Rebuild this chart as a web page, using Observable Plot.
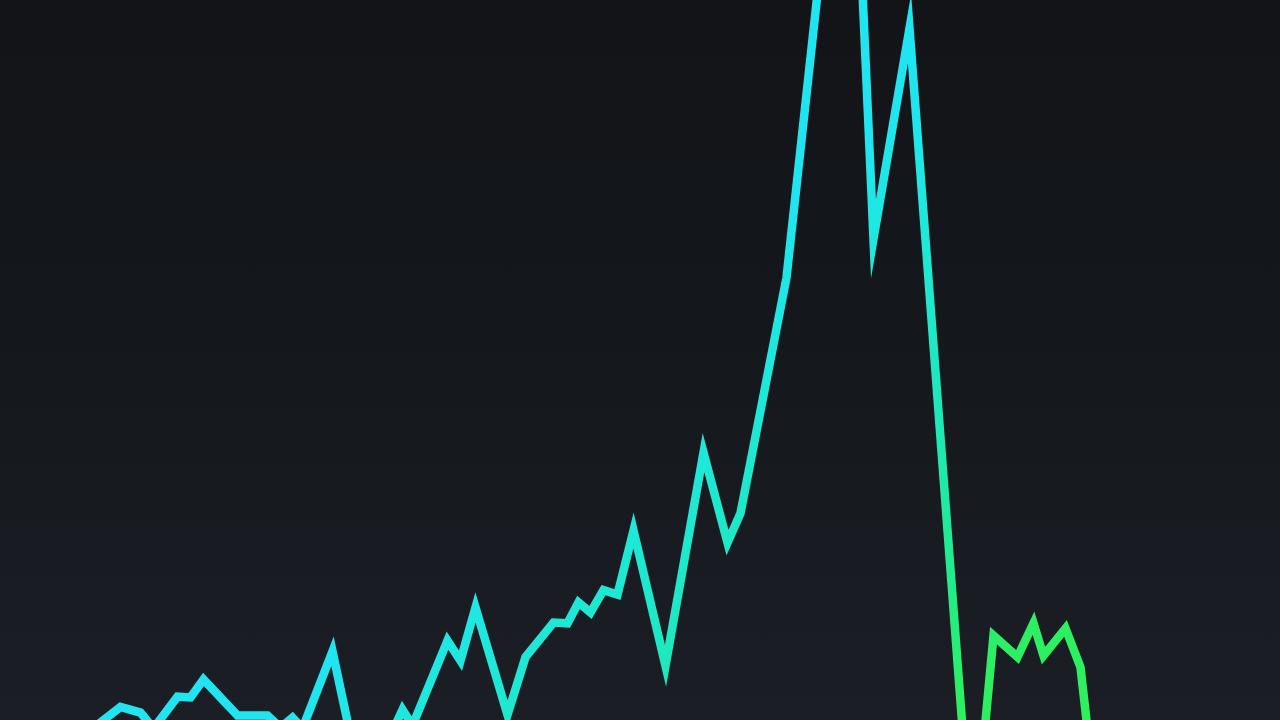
<!DOCTYPE html>
<html>
<head>
<meta charset="utf-8">
<script src="https://cdn.jsdelivr.net/npm/d3@7"></script>
<script src="https://cdn.jsdelivr.net/npm/@observablehq/plot@0.6"></script>
<style>
  html, body { margin: 0; padding: 0; width: 1280px; height: 720px; overflow: hidden; }
  body { background: linear-gradient(180deg, #121418 0%, #14171b 45%, #1b1e25 100%); }
  #chart svg { display: block; background: transparent; }
</style>
</head>
<body>
<div id="chart"></div>
<script>
// Time index (days) and price values
const days = [9.7, 12.0, 14.0, 15.3, 17.7, 19.0, 20.3, 23.7, 26.7, 28.0, 29.2, 30.2, 33.2, 35.0, 39.0, 40.2, 41.2,
  44.7, 46.0, 47.5, 50.7, 52.5, 55.3, 56.7, 57.8, 59.0, 60.3, 61.7, 63.3, 66.5, 70.3, 72.7, 74.0, 78.6,
  84.9, 87.3, 90.9, 97.2, 99.3, 101.7, 103.3, 104.3, 106.5, 108.0, 109.5];
const prices = [-0.6, 1.9, 1.1, -1.1, 3.3, 3.2, 5.7, 0.7, 0.7, -1.0, 0.4, -1.1, 9.6, -2.1, -2.1, 1.5, -0.7,
  11.1, 8.3, 15.7, 0.8, 8.8, 13.6, 13.5, 16.4, 15.0, 18.1, 17.5, 26.4, 7.6, 37.2, 24.7, 28.8, 61.5,
  141.7, 66.9, 96.1, -19.4, 11.8, 8.8, 13.5, 9.0, 12.8, 7.4, -11.1];

const data = days.map((d, i) => ({day: d, price: prices[i]}));

const chart = Plot.plot({
  width: 1280,
  height: 720,
  margin: 0,
  x: {domain: [0, 128], axis: null},
  y: {domain: [0, 100], axis: null},
  style: {background: "transparent"},
  marks: [
    Plot.line(data, {
      x: "day",
      y: "price",
      stroke: "url(#lineGrad)",
      strokeWidth: 8.5,
      strokeLinejoin: "miter",
      strokeMiterlimit: 20,
      strokeLinecap: "round",
      clip: true
    })
  ]
});

// gradient definition (diagonal, cyan -> green)
const ns = "http://www.w3.org/2000/svg";
const defs = document.createElementNS(ns, "defs");
const grad = document.createElementNS(ns, "linearGradient");
grad.setAttribute("id", "lineGrad");
grad.setAttribute("gradientUnits", "userSpaceOnUse");
grad.setAttribute("x1", "0"); grad.setAttribute("y1", "0");
grad.setAttribute("x2", "1000"); grad.setAttribute("y2", "1000");
[[0, "#20e2f0"], [0.5, "#20e5f0"], [0.58, "#1ee8d8"], [0.68, "#1ee8b8"], [0.77, "#22ec88"], [0.83, "#2cf062"], [1, "#30f058"]]
  .forEach(([o, c]) => {
    const s = document.createElementNS(ns, "stop");
    s.setAttribute("offset", o);
    s.setAttribute("stop-color", c);
    grad.appendChild(s);
  });
defs.appendChild(grad);
chart.insertBefore(defs, chart.firstChild);

document.getElementById("chart").appendChild(chart);
</script>
</body>
</html>
